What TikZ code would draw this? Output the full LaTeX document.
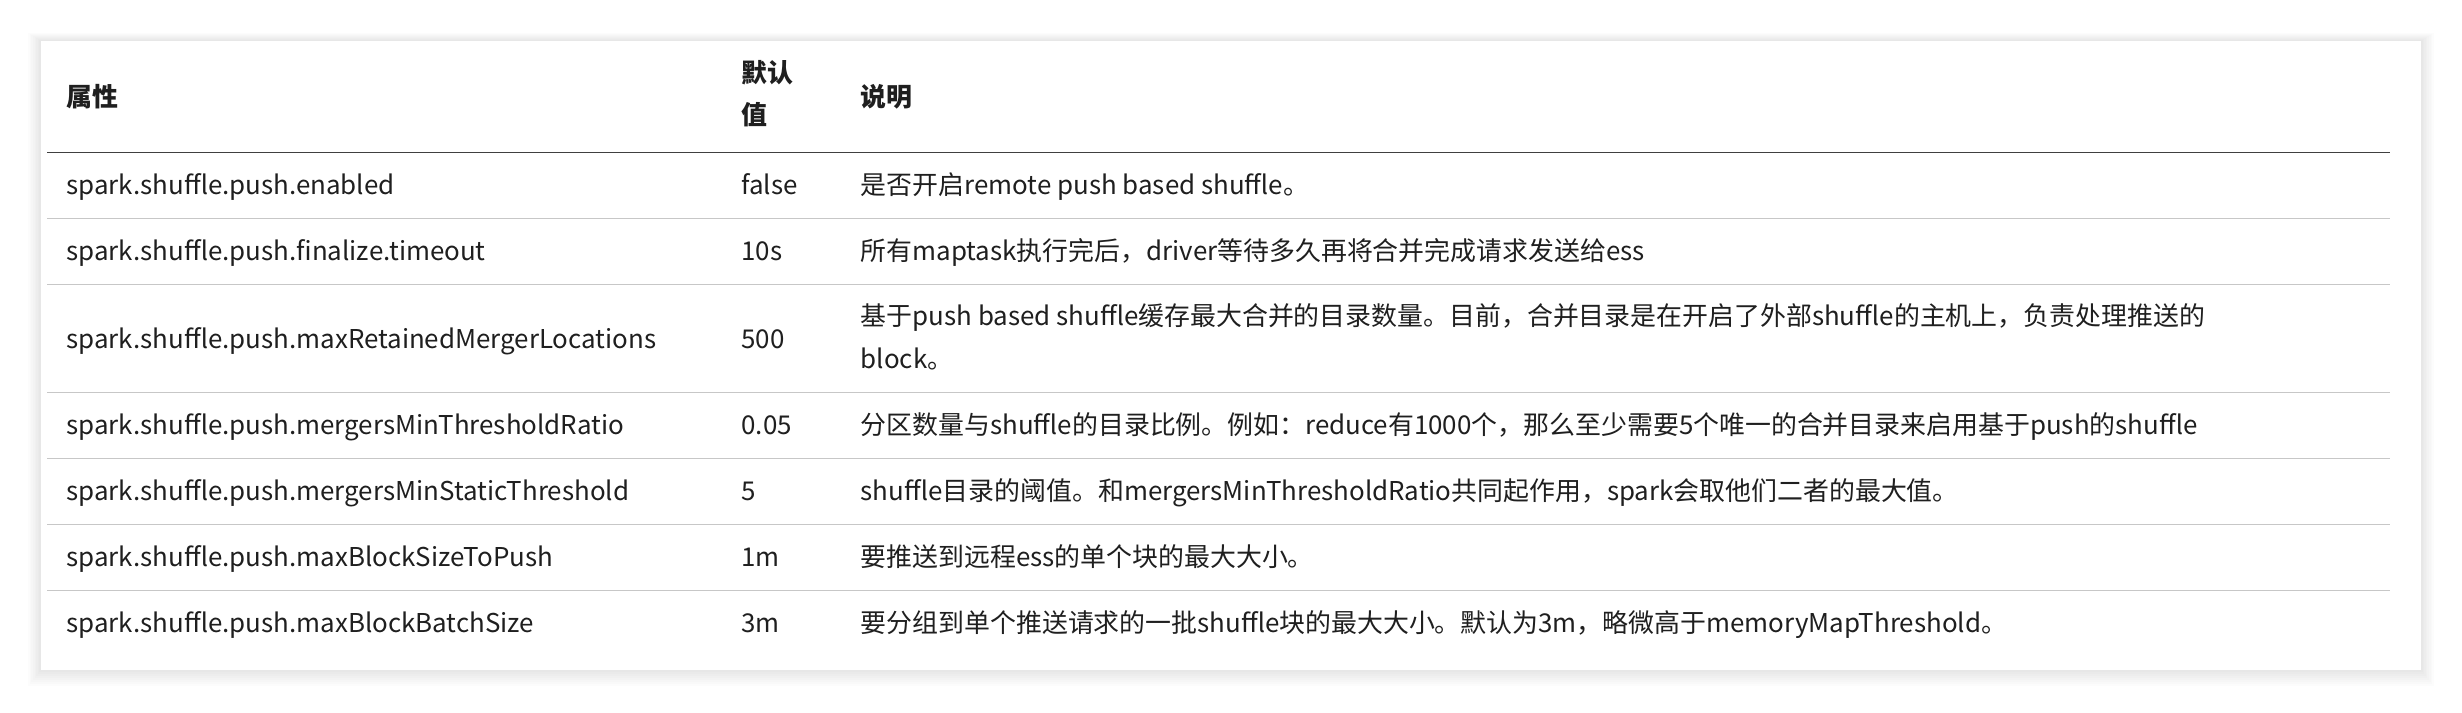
\documentclass[tikz,border=0pt]{standalone}
\usepackage{fontspec}
\setmainfont{Noto Sans CJK SC}
\begin{document}
\begin{tikzpicture}[x=1pt,y=-1pt,
  t/.style={anchor=base west,inner sep=0pt,font=\fontsize{16.5}{20}\selectfont,text=black!88},
  h/.style={t,font=\fontsize{16.5}{27}\selectfont\bfseries},
  sep/.style={draw=black!22,line width=0.8pt}]
\useasboundingbox (0,0) rectangle (1568,453.5);
\foreach \i in {1,...,8} {\fill[black,opacity=0.012] (26-\i,26-\i*0.6) rectangle (1542+\i,427+\i*1.2);}
\fill[white] (26,26) rectangle (1542,427);
\node[h] (h1) at (42,68) {属性};
\node[h,align=left,anchor=north west] (h2) at (472,38) {默认\\值};
\node[h] (h3) at (548,68) {说明};
\coordinate (l0a) at (30,97); \coordinate (l0b) at (1522,97);
\draw[black!75,line width=1pt] (l0a) -- (l0b);
\foreach \y in {139,181,250,292,334,376} {\draw[sep] (30,\y) -- (1522,\y);}
\node[t] (a1) at (42,124) {spark.shuffle.push.enabled};
\node[t] (b1) at (472,124) {false};
\node[t] (c1) at (548,124) {是否开启remote push based shuffle。};
\node[t] (a2) at (42,166) {spark.shuffle.push.finalize.timeout};
\node[t] (b2) at (472,166) {10s};
\node[t] (c2) at (548,166) {所有maptask执行完后，driver等待多久再将合并完成请求发送给ess};
\node[t] (a3) at (42,222) {spark.shuffle.push.maxRetainedMergerLocations};
\node[t] (b3) at (472,222) {500};
\node[t] (c3) at (548,207) {基于push based shuffle缓存最大合并的目录数量。目前，合并目录是在开启了外部shuffle的主机上，负责处理推送的};
\node[t] (c3b) at (548,235) {block。};
\node[t] (a4) at (42,277) {spark.shuffle.push.mergersMinThresholdRatio};
\node[t] (b4) at (472,277) {0.05};
\node[t] (c4) at (548,277) {分区数量与shuffle的目录比例。例如：reduce有1000个，那么至少需要5个唯一的合并目录来启用基于push的shuffle};
\node[t] (a5) at (42,319) {spark.shuffle.push.mergersMinStaticThreshold};
\node[t] (b5) at (472,319) {5};
\node[t] (c5) at (548,319) {shuffle目录的阈值。和mergersMinThresholdRatio共同起作用，spark会取他们二者的最大值。};
\node[t] (a6) at (42,361) {spark.shuffle.push.maxBlockSizeToPush};
\node[t] (b6) at (472,361) {1m};
\node[t] (c6) at (548,361) {要推送到远程ess的单个块的最大大小。};
\node[t] (a7) at (42,403) {spark.shuffle.push.maxBlockBatchSize};
\node[t] (b7) at (472,403) {3m};
\node[t] (c7) at (548,403) {要分组到单个推送请求的一批shuffle块的最大大小。默认为3m，略微高于memoryMapThreshold。};
\end{tikzpicture}
\end{document}
